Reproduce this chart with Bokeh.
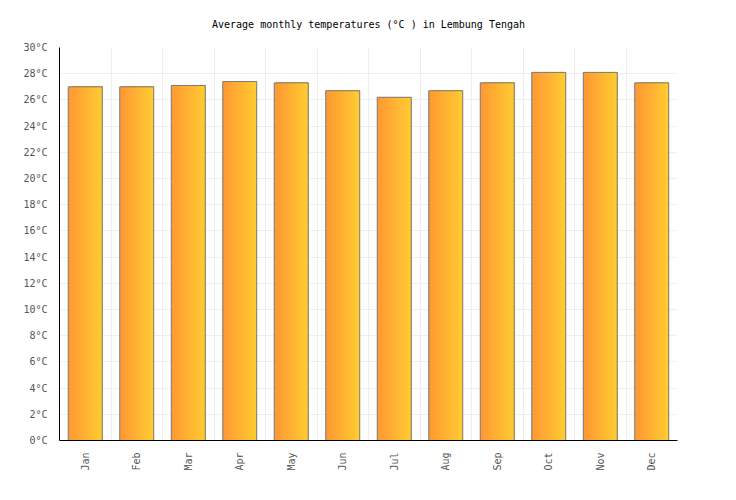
import numpy as np
from bokeh.plotting import figure
from bokeh.models import Range1d, FixedTicker, PrintfTickFormatter, ColumnDataSource
from bokeh.embed import file_html
from bokeh.resources import INLINE

months = ["Jan", "Feb", "Mar", "Apr", "May", "Jun", "Jul", "Aug", "Sep", "Oct", "Nov", "Dec"]
temps = [27.0, 27.0, 27.1, 27.4, 27.3, 26.7, 26.2, 26.7, 27.3, 28.1, 28.1, 27.3]
y_ticks = list(range(0, 31, 2))
title_text = "Average monthly temperatures (°C ) in Lembung Tengah"

FONT = "DejaVu Sans Mono"
BAR_W = 0.66
N_STRIPS = 30
C_LEFT = (255, 152, 51)
C_RIGHT = (255, 204, 51)

p = figure(width=720, height=484, output_backend="svg", toolbar_location=None,
           x_range=Range1d(0, len(months)), y_range=Range1d(0, 30),
           min_border_left=59, min_border_right=43, min_border_top=47, min_border_bottom=44)

p.title.text = title_text
p.title.align = "center"
p.title.text_font = FONT
p.title.text_font_size = "10px"
p.title.text_font_style = "normal"
p.title.text_color = "#000000"
p.title.offset = 0
p.title.standoff = 31
p.title.vertical_align = "top"

xc = np.arange(len(months)) + 0.5
strip_w = BAR_W / N_STRIPS
x0 = xc - BAR_W / 2
x1 = xc + BAR_W / 2
for k in range(N_STRIPS):
    t = (k + 0.5) / N_STRIPS
    col = "#%02x%02x%02x" % tuple(int(round(a + (b - a) * t)) for a, b in zip(C_LEFT, C_RIGHT))
    src = ColumnDataSource(dict(left=x0 + k * strip_w, right=x1, top=temps, bottom=[0] * len(temps)))
    p.quad(left="left", right="right", top="top", bottom="bottom", source=src,
           fill_color=col, line_color=None)

p.vbar(x=xc, top=temps, bottom=0, width=BAR_W, fill_color=None,
       line_color="#7a7a7a", line_width=1)

p.xaxis.ticker = FixedTicker(ticks=list(xc))
p.xaxis.major_label_overrides = {float(x): m for x, m in zip(xc, months)}
p.xaxis.major_label_orientation = np.pi / 2
p.yaxis.ticker = FixedTicker(ticks=y_ticks)
p.yaxis.formatter = PrintfTickFormatter(format="%d°C")

for ax in (p.xaxis, p.yaxis):
    ax.major_label_text_font = FONT
    ax.major_label_text_font_size = "10px"
    ax.major_label_text_color = "#555555"
    ax.axis_line_color = "#000000"
    ax.axis_line_width = 1
    ax.major_tick_line_color = None
    ax.minor_tick_line_color = None
    ax.major_label_standoff = 6

p.xgrid.ticker = FixedTicker(ticks=list(range(0, len(months) + 1)))
p.xgrid.grid_line_color = "#eeeeee"
p.ygrid.grid_line_color = "#eeeeee"
p.outline_line_color = None
p.background_fill_color = "white"
p.border_fill_color = "white"

open("out.html", "w").write(file_html(p, INLINE))
